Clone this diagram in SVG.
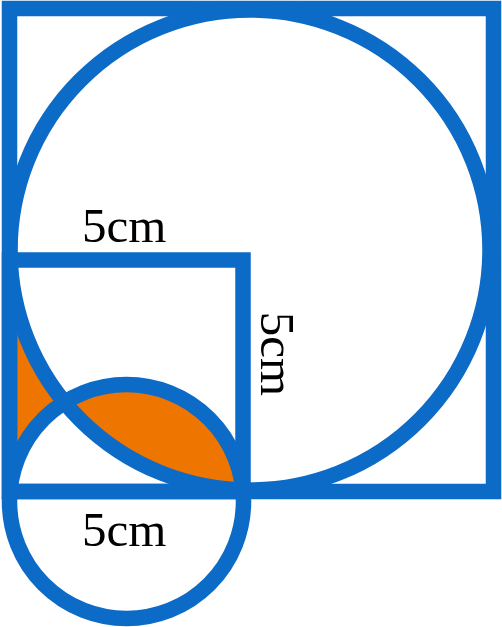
<svg xmlns="http://www.w3.org/2000/svg" width="502" height="627" viewBox="0 0 502 627">
  <style>
    .ln { fill: none; stroke: #0c6bc6; stroke-width: 15.5; }
    .lbl { font-family: "Liberation Serif", "DejaVu Serif", serif; font-size: 49px; fill: #000; text-anchor: middle; }
  </style>
  <defs>
    <clipPath id="sqclip">
      <rect x="9.5" y="260" width="233.5" height="231.5"/>
    </clipPath>
  </defs>
  <rect x="0" y="0" width="502" height="627" fill="#fff"/>
  <g id="shaded" clip-path="url(#sqclip)">
    <path fill="#ee7500" fill-rule="evenodd" d="M9.5,260 H243 V491.5 H9.5 Z M10,250 A240,240 0 1,0 490,250 A240,240 0 1,0 10,250 Z M9.5,501.5 A117,117 0 1,0 243.5,501.5 A117,117 0 1,0 9.5,501.5 Z"/>
  </g>
  <g id="big-square"><rect class="ln" x="9.5" y="8.5" width="484" height="483"/></g>
  <g id="big-circle"><circle class="ln" cx="250" cy="250" r="240"/></g>
  <g id="small-square"><rect class="ln" x="9.5" y="260" width="233.5" height="231.5"/></g>
  <g id="small-circle"><circle class="ln" cx="126.5" cy="501.5" r="117"/></g>
  <g id="labels">
    <text class="lbl" x="124.2" y="241.7">5cm</text>
    <text class="lbl" x="124.2" y="545.7">5cm</text>
    <text class="lbl" transform="translate(261,354) rotate(90)">5cm</text>
  </g>
</svg>
